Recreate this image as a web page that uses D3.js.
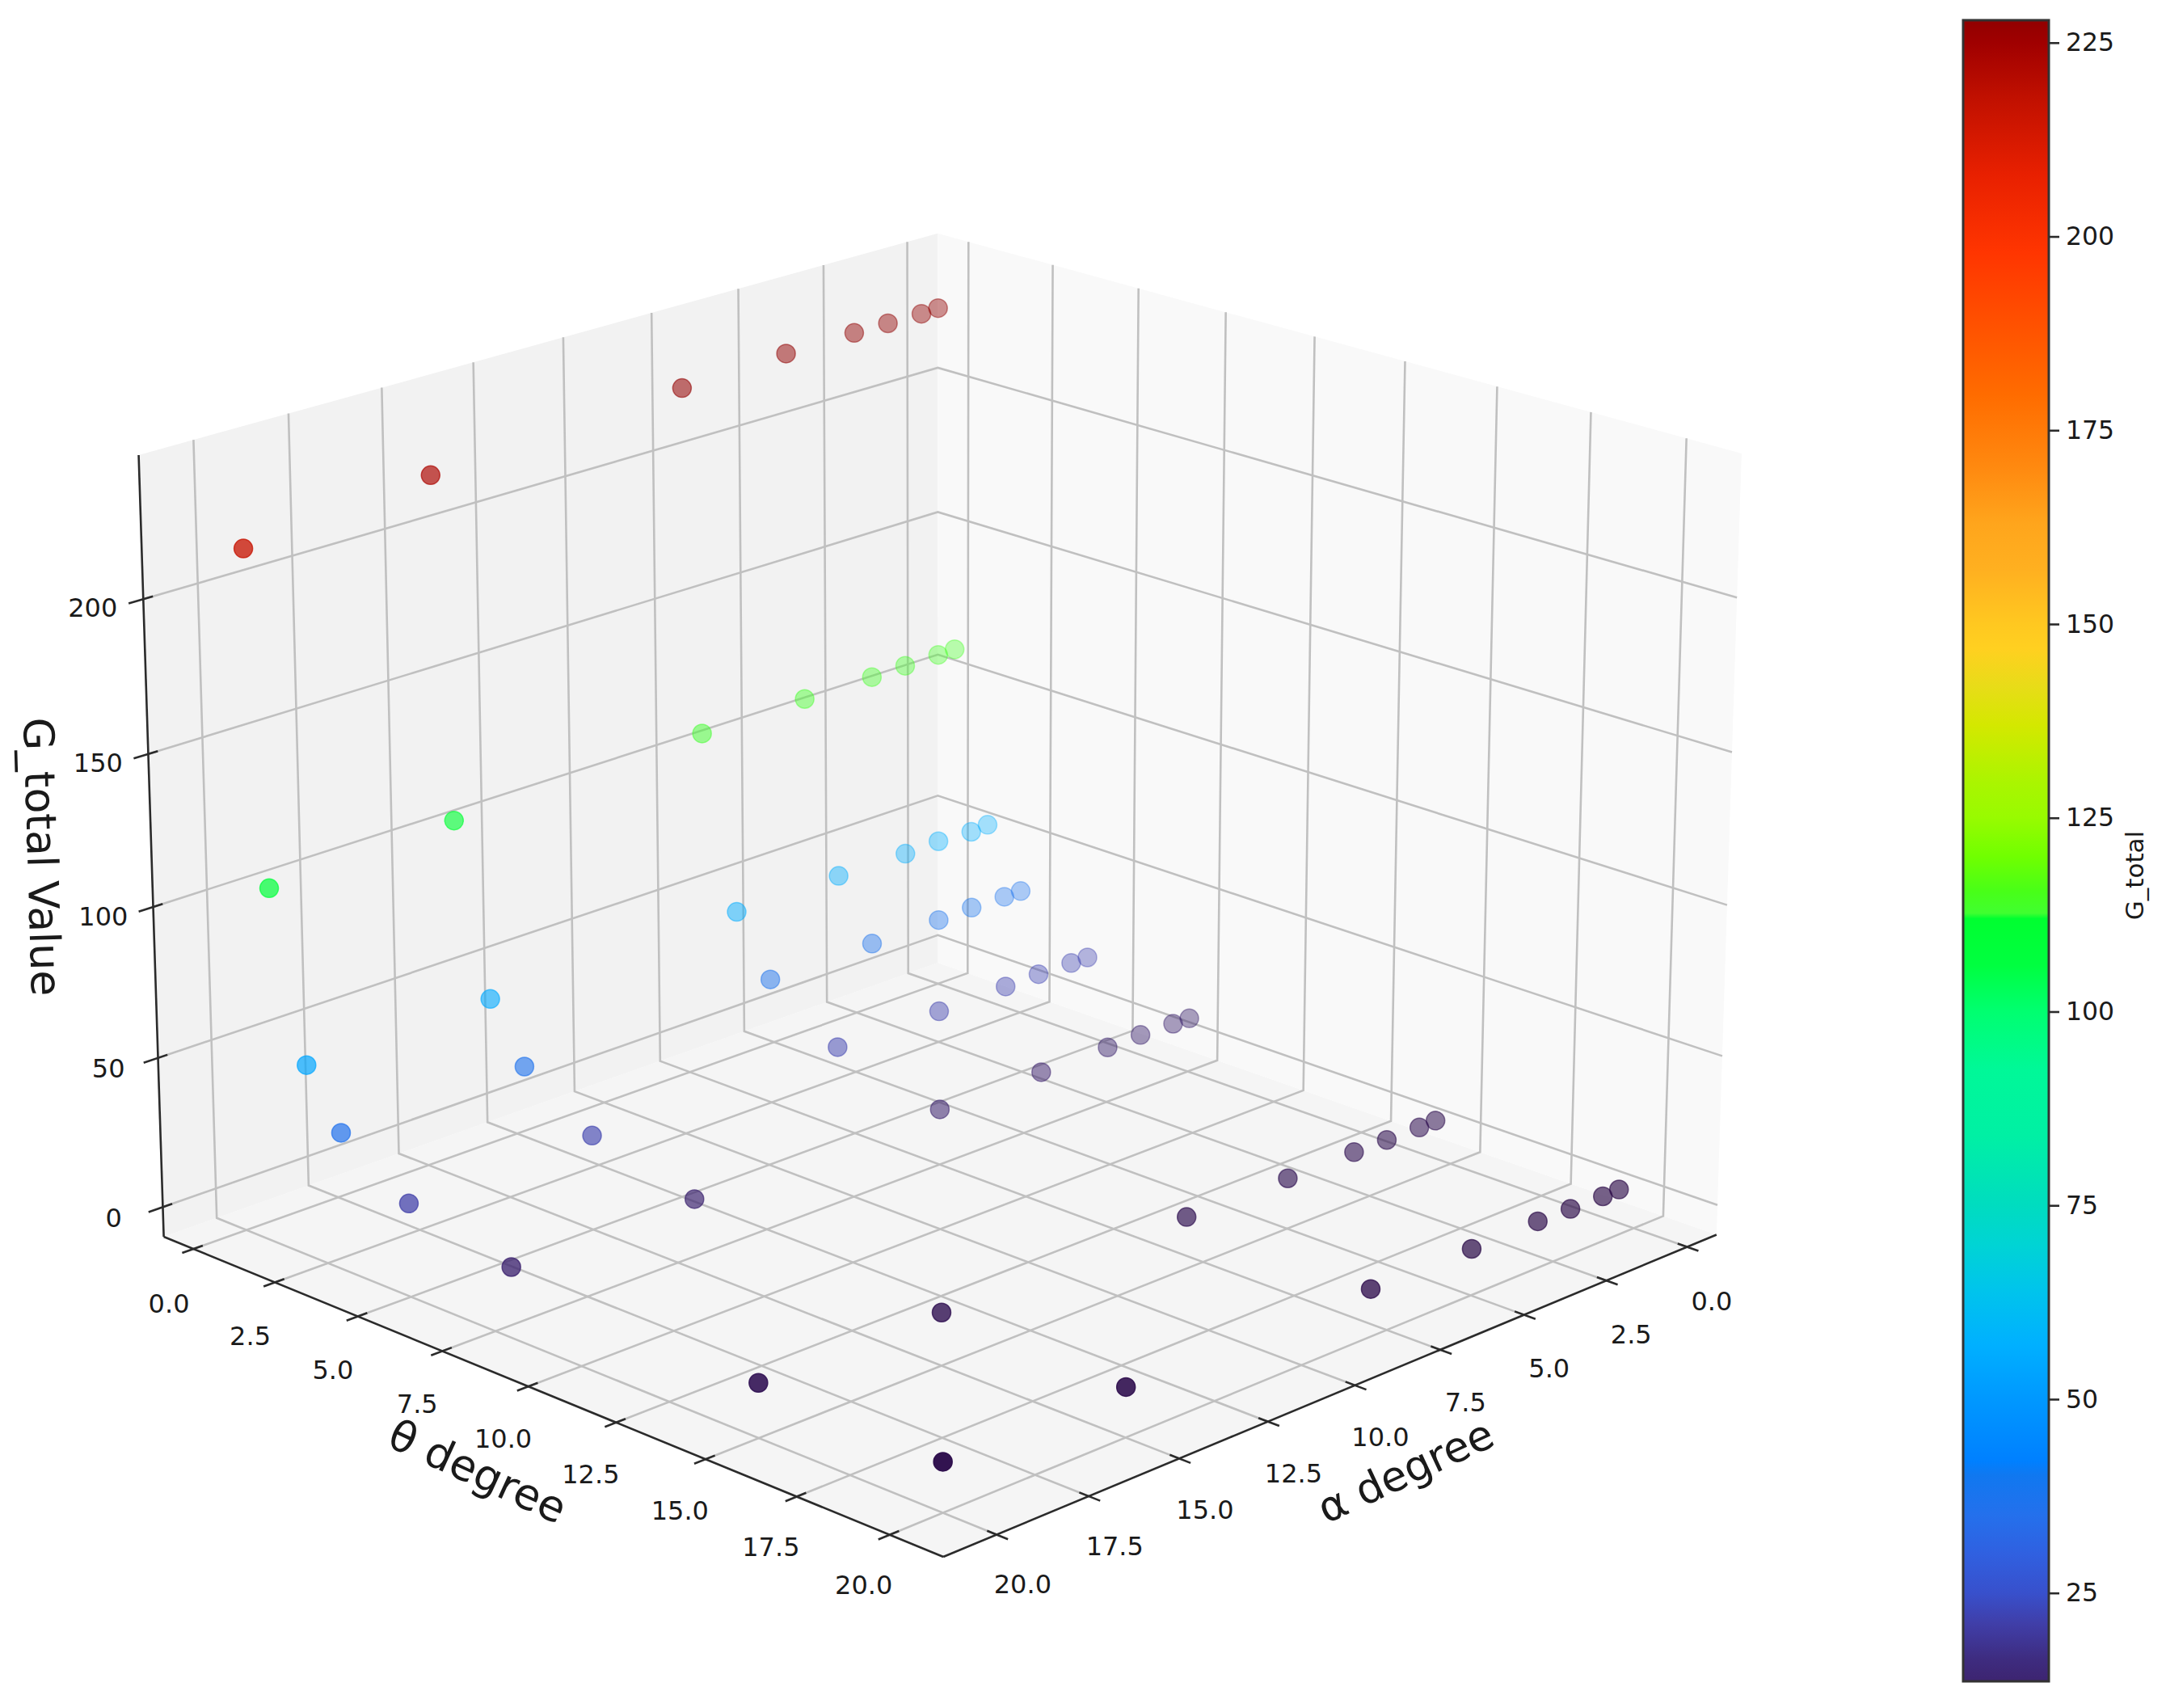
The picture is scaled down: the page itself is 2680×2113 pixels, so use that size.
<!DOCTYPE html>
<html><head><meta charset="utf-8"><style>body{margin:0;background:#fff}text{font-family:"DejaVu Sans";fill:#1a1a1a}</style>
<script src="https://cdn.jsdelivr.net/npm/d3@7"></script></head><body><svg id="c" width="2680" height="2113"></svg>
<script>
// Sampled angles and the total G at each pair (rows follow thetas, columns follow alphas)
const alphas=[20,15,8,5,3,2,1,0.5];
const thetas=[0.5,1,2,3,5,8,15,20];
const gTheta05=[216.2,222.4,227.3,228.9,229.3,229.3,229.3,229.6];
const gTheta1=[108.1,110.7,113.1,113.6,113.7,113.9,114.0,114.1];
const gTheta2=[53.9,55.0,56.0,56.4,56.2,56.6,56.0,56.5];
const gTheta3=[35.7,36.4,36.8,36.9,37.0,37.3,37.1,37.1];
const gTheta5=[21.0,21.7,21.8,21.6,21.9,22.1,21.9,21.8];
const gTheta8=[13.4,13.5,13.2,13.1,13.2,13.3,13.0,12.8];
const gTheta15=[7.8,7.4,7.3,7.0,7.1,6.9,6.8,7.0];
const gTheta20=[6.2,6.3,5.8,5.5,5.7,5.4,5.2,5.3];
const gRows=[gTheta05,gTheta1,gTheta2,gTheta3,gTheta5,gTheta8,gTheta15,gTheta20];

const angleTicks=[0,2.5,5,7.5,10,12.5,15,17.5,20];
const zTicks=[0,50,100,150,200];
const barTicks=[25,50,75,100,125,150,175,200,225];

// Colour ramp, value -> colour
const rampValues=[5,13.6,16.5,21,25,30,35,40.2,42,50,57,64,70,75,84,92.5,100,106,112,112.7,115.5,120,125,129.5,137,142,146.8,150,157,163,170,179.5,189,198,208,218,225,228];
const rampColors=["#2b0a47","#3d2470","#3e2c80","#403ea8","#3850cc","#3060e0","#2470ec","#1078f0","#0080ff","#0098ff","#00b0ff","#00c4ec","#00d4d4","#00dcc0","#00f0a4","#00f898","#00ff70","#00ff40","#00ff30","#40ff30","#48ff18","#70ff00","#98fb00","#aaf500","#d4e800","#e8dc18","#ffd020","#ffc820","#ffb020","#ffa51c","#ff8a10","#ff6c00","#ff5000","#ff3500","#e82000","#c01000","#a00000","#900000"];
const color=d3.scaleLinear(rampValues,rampColors).clamp(true);

// Viewing geometry: elevation 20, azimuth just under 45, perspective camera
const rad=Math.PI/180,el=20*rad,az=44.8*rad,camera=10,boxW=1.24,boxH=0.93;
const E=[Math.cos(el)*Math.cos(az),Math.cos(el)*Math.sin(az),Math.sin(el)];
const R=[-Math.sin(az),Math.cos(az),0];
const U=[-Math.sin(el)*Math.cos(az),-Math.sin(el)*Math.sin(az),Math.cos(el)];
const aMin=-0.922,aMax=21.422,zMin=-10,zMax=246;
const sAlpha=d3.scaleLinear([aMin,aMax],[-boxW/2,boxW/2]);
const sTheta=sAlpha.copy();
const sZ=d3.scaleLinear([zMin,zMax],[-boxH/2,boxH/2]);
const screenX=d3.scaleLinear([-1,1],[1163.5-11130,1163.5+11130]);
const screenY=d3.scaleLinear([-1,1],[1053+11060,1053-11060]);
const dot=(v,p)=>v[0]*p[0]+v[1]*p[1]+v[2]*p[2];
const world=(a,t,z)=>[sAlpha(a),sTheta(t),sZ(z)];
const project=(a,t,z)=>{const p=world(a,t,z),w=camera-dot(E,p);return [screenX(dot(R,p)/w),screenY(dot(U,p)/w)];};
const depth=(a,t,z)=>dot(E,world(a,t,z));

const svg=d3.select("#c");
svg.append("rect").attr("width",2680).attr("height",2113).attr("fill","#fff");
const path=pts=>d3.line()(pts);

// Panes
const pane=(corners,fill)=>svg.append("path").attr("d",path(corners.map(c=>project(...c)))+"Z").attr("fill",fill);
pane([[aMax,aMin,zMin],[aMin,aMin,zMin],[aMin,aMax,zMin],[aMax,aMax,zMin]],"#f5f5f5");
pane([[aMax,aMin,zMin],[aMin,aMin,zMin],[aMin,aMin,zMax],[aMax,aMin,zMax]],"#f2f2f2");
pane([[aMin,aMin,zMin],[aMin,aMax,zMin],[aMin,aMax,zMax],[aMin,aMin,zMax]],"#f9f9f9");

// Grid lines
const grid=svg.append("g").attr("fill","none").attr("stroke","#c0c0c0").attr("stroke-width",2.6);
angleTicks.forEach(v=>{
  grid.append("path").attr("d",path([[v,aMax,zMin],[v,aMin,zMin],[v,aMin,zMax]].map(c=>project(...c))));
  grid.append("path").attr("d",path([[aMax,v,zMin],[aMin,v,zMin],[aMin,v,zMax]].map(c=>project(...c))));
});
zTicks.forEach(z=>grid.append("path").attr("d",path([[aMax,aMin,z],[aMin,aMin,z],[aMin,aMax,z]].map(c=>project(...c)))));

// Axis edges and ticks
const axes=svg.append("g").attr("fill","none").attr("stroke","#2b2b2b").attr("stroke-width",2.6);
const seg=(p,q)=>axes.append("path").attr("d",path([project(...p),project(...q)]));
seg([aMin,aMax,zMin],[aMax,aMax,zMin]);
seg([aMax,aMin,zMin],[aMax,aMax,zMin]);
seg([aMax,aMin,zMin],[aMax,aMin,zMax]);
angleTicks.forEach(v=>{
  seg([v,aMax-0.25,zMin],[v,aMax+0.3,zMin]);
  seg([aMax-0.25,v,zMin],[aMax+0.3,v,zMin]);
});
zTicks.forEach(z=>seg([aMax-0.25,aMin,z],[aMax+0.38,aMin,z]));

// Tick labels; the drop below the floor eases off toward the front corner
const labels=svg.append("g").attr("font-size",32).attr("text-anchor","middle").attr("dominant-baseline","central");
const put=(pos,s)=>labels.append("text").attr("x",pos[0]).attr("y",pos[1]).text(s);
const labelDrop=d3.scaleLinear([0,20],[15.3,12.4]);
angleTicks.forEach(v=>{
  put(project(v,aMax+0.69,zMin-labelDrop(v)),v.toFixed(1));
  put(project(aMax+0.69,v,zMin-labelDrop(v)),v.toFixed(1));
});
zTicks.forEach(z=>put(project(aMax+1.3,aMin,z+2),String(z)));

// Axis titles
const title=(x,y,rot,size,s)=>svg.append("text").attr("transform",`translate(${x},${y}) rotate(${rot})`)
  .attr("font-size",size).attr("text-anchor","middle").attr("dominant-baseline","central").text(s);
title(591,1820,24.6,53,"θ degree");
title(1739,1820,-25,52,"α degree");
title(52,1060,88.3,52,"G_total Value");

// Scatter points, far ones first, faded with distance
const points=[];
thetas.forEach((t,i)=>alphas.forEach((a,j)=>points.push({a,t,g:gRows[i][j],d:depth(a,t,gRows[i][j])})));
points.sort((p,q)=>d3.ascending(p.d,q.d));
const fade=d3.scaleLinear(d3.extent(points,p=>p.d),[0.35,0.98]);
svg.append("g").selectAll("circle").data(points).join("circle")
  .attr("cx",p=>project(p.a,p.t,p.g)[0]).attr("cy",p=>project(p.a,p.t,p.g)[1])
  .attr("r",11.5).attr("stroke-width",1.5)
  .attr("fill",p=>color(p.g)).attr("stroke",p=>color(p.g))
  .attr("fill-opacity",p=>fade(p.d)).attr("stroke-opacity",p=>fade(p.d));

// Colour bar
const barMin=13.6,barMax=227.9,barTop=25,barBottom=2080,barLeft=2429,barRight=2535;
const barY=d3.scaleLinear([barMin,barMax],[barBottom,barTop]);
const defs=svg.append("defs").append("linearGradient").attr("id","ramp").attr("x1",0).attr("x2",0).attr("y1",1).attr("y2",0);
rampValues.forEach((v,i)=>{
  if(v<barMin||v>barMax) return;
  defs.append("stop").attr("offset",(v-barMin)/(barMax-barMin)).attr("stop-color",rampColors[i]);
});
defs.append("stop").attr("offset",1).attr("stop-color",color(barMax));
svg.append("rect").attr("x",barLeft).attr("y",barTop).attr("width",barRight-barLeft).attr("height",barBottom-barTop)
  .attr("fill","url(#ramp)").attr("stroke","#333").attr("stroke-width",3);
const barAxis=svg.append("g").attr("transform",`translate(${barRight},0)`)
  .call(d3.axisRight(barY).tickValues(barTicks).tickSize(13).tickPadding(8).tickFormat(d3.format("d")));
barAxis.select(".domain").remove();
barAxis.selectAll("line").attr("stroke","#2b2b2b").attr("stroke-width",2.6);
barAxis.selectAll("text").attr("font-size",31.5).attr("font-family","DejaVu Sans").attr("fill","#1a1a1a");
svg.append("text").attr("transform","translate(2641,1083) rotate(-90)").attr("font-size",31)
  .attr("text-anchor","middle").attr("dominant-baseline","central").text("G_total");
</script></body></html>
